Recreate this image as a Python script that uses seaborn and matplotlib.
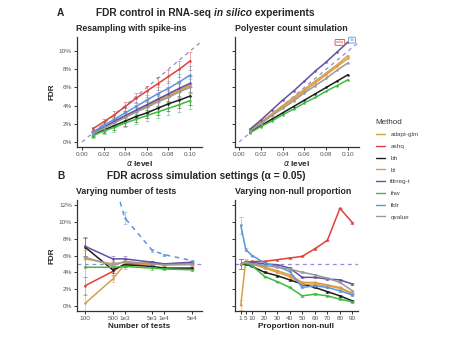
import numpy as np
import pandas as pd
import matplotlib
matplotlib.use("Agg")
import matplotlib.pyplot as plt
from matplotlib.lines import Line2D
import seaborn as sns

sns.set_theme(style="ticks")
plt.rcParams['font.family'] = ['Liberation Sans', 'DejaVu Sans']

W, H = 474, 341

methods = ["adapt-glm", "ashq", "bh", "bl", "fdrreg-t", "ihw", "lfdr", "qvalue"]
colors = ["#D2A24C", "#E0403A", "#1E1E1E", "#E39A45", "#634FA3", "#3DBB3D", "#5B95DA", "#9A9A9A"]
palette = dict(zip(methods, colors))

# ---------------- Panel A: resampling with spike-ins ----------------
alpha_levels = [0.01, 0.02, 0.03, 0.04, 0.05, 0.06, 0.07, 0.08, 0.09, 0.10]
rs_adapt = [0.95, 1.6, 2.2, 2.8, 3.4, 4.0, 4.6, 5.2, 5.7, 6.3]
rs_ashq = [1.45, 2.2, 3.0, 3.9, 4.8, 5.6, 6.4, 7.2, 8.0, 8.9]
rs_bh = [0.8, 1.3, 1.8, 2.3, 2.8, 3.2, 3.7, 4.2, 4.6, 5.05]
rs_bl = [0.95, 1.55, 2.15, 2.75, 3.35, 3.9, 4.5, 5.0, 5.6, 6.2]
rs_fdrreg = [1.0, 1.6, 2.3, 2.9, 3.5, 4.1, 4.7, 5.3, 5.9, 6.45]
rs_ihw = [0.7, 1.2, 1.6, 2.1, 2.5, 2.9, 3.3, 3.7, 4.1, 4.55]
rs_lfdr = [1.1, 1.8, 2.5, 3.2, 3.9, 4.6, 5.3, 5.9, 6.6, 7.35]
rs_qvalue = [0.9, 1.5, 2.1, 2.7, 3.3, 3.8, 4.4, 4.9, 5.5, 6.0]
rs_err = [0.25, 0.35, 0.45, 0.5, 0.55, 0.6, 0.7, 0.75, 0.85, 0.95]

# ---------------- Panel A: polyester ----------------
py_adapt = [1.3, 2.2, 3.1, 4.0, 4.9, 5.8, 6.7, 7.6, 8.5, 9.5]
py_bh = [1.1, 1.8, 2.5, 3.2, 3.9, 4.6, 5.3, 6.0, 6.7, 7.4]
py_bl = [1.25, 2.1, 3.0, 3.9, 4.7, 5.6, 6.5, 7.4, 8.3, 9.2]
py_fdrreg = [1.4, 2.4, 3.5, 4.6, 5.6, 6.7, 7.8, 8.8, 9.9, 11.0]
py_ihw = [1.0, 1.7, 2.3, 3.0, 3.6, 4.3, 4.9, 5.6, 6.2, 6.85]
py_qvalue = [1.2, 2.0, 2.9, 3.7, 4.5, 5.4, 6.2, 7.0, 7.9, 8.7]

# ---------------- Panel B: number of tests ----------------
n_tests = [100, 500, 1000, 5000, 10000, 50000]
n_tick_labels = ["100", "500", "1e3", "5e3", "1e4", "5e4"]
nt_adapt = [0.3, 3.2, 4.9, 5.0, 4.9, 4.9]
nt_ashq = [2.4, 4.1, 5.0, 5.1, 5.0, 5.1]
nt_bh = [7.0, 4.3, 4.9, 4.7, 4.5, 4.5]
nt_bl = [5.6, 5.0, 5.2, 5.0, 4.9, 5.0]
nt_fdrreg = [7.1, 5.6, 5.6, 5.2, 5.0, 5.2]
nt_ihw = [4.6, 4.6, 4.7, 4.5, 4.4, 4.3]
nt_lfdr = [np.nan, 15.5, 10.5, 6.6, 6.1, 5.4]
nt_qvalue = [5.8, 4.8, 5.3, 5.0, 4.9, 5.0]
nt_err = [1.1, 0.4, 0.3, 0.2, 0.1, 0.1]
nt_err_lfdr = [0.0, 0.0, 0.7, 0.15, 0.1, 0.1]

# ---------------- Panel B: non-null proportion ----------------
prop_nonnull = [1, 5, 10, 20, 30, 40, 50, 60, 70, 80, 90]
pn_adapt = [0.1, 5.4, 5.1, 4.6, 4.2, 3.7, 2.8, 2.8, 2.5, 2.2, 1.5]
pn_ashq = [5.0, 5.2, 5.3, 5.3, 5.5, 5.7, 5.9, 6.8, 7.8, 11.6, 9.9]
pn_bh = [5.0, 5.0, 4.7, 4.0, 3.6, 3.1, 2.6, 2.2, 1.7, 1.2, 0.6]
pn_bl = [5.0, 5.2, 5.0, 4.5, 4.0, 3.5, 2.6, 2.6, 2.4, 2.1, 1.4]
pn_fdrreg = [5.0, 5.2, 5.2, 5.0, 4.9, 4.5, 3.4, 3.4, 3.2, 3.1, 2.6]
pn_ihw = [5.0, 5.1, 4.8, 3.5, 2.9, 2.2, 1.2, 1.4, 1.2, 0.8, 0.5]
pn_lfdr = [9.6, 6.7, 6.0, 5.1, 4.7, 4.1, 2.2, 2.4, 2.2, 1.8, 1.3]
pn_qvalue = [5.0, 5.2, 5.0, 4.8, 4.6, 4.4, 4.0, 3.7, 3.3, 2.8, 1.8]
pn_err = [0.6, 0.15, 0.1, 0.1, 0.1, 0.1, 0.1, 0.1, 0.1, 0.1, 0.1]
pn_err_lfdr = [1.0, 0.15, 0.1, 0.1, 0.1, 0.1, 0.1, 0.1, 0.1, 0.1, 0.1]


def long_df(x, series):
    rows = []
    for m, vals in series.items():
        for xi, v in zip(x, vals):
            rows.append({"x": xi, "FDR": v, "Method": m})
    return pd.DataFrame(rows)


df_rs = long_df(alpha_levels, {"adapt-glm": rs_adapt, "ashq": rs_ashq, "bh": rs_bh, "bl": rs_bl,
                               "fdrreg-t": rs_fdrreg, "ihw": rs_ihw, "lfdr": rs_lfdr, "qvalue": rs_qvalue})
df_py = long_df(alpha_levels, {"adapt-glm": py_adapt, "bh": py_bh, "bl": py_bl,
                               "fdrreg-t": py_fdrreg, "ihw": py_ihw, "qvalue": py_qvalue})
df_nt = long_df(n_tests, {"adapt-glm": nt_adapt, "ashq": nt_ashq, "bh": nt_bh, "bl": nt_bl,
                          "fdrreg-t": nt_fdrreg, "ihw": nt_ihw, "qvalue": nt_qvalue})
df_nt_lfdr = long_df(n_tests, {"lfdr": nt_lfdr})
df_pn = long_df(prop_nonnull, {"adapt-glm": pn_adapt, "ashq": pn_ashq, "bh": pn_bh, "bl": pn_bl,
                               "fdrreg-t": pn_fdrreg, "ihw": pn_ihw, "lfdr": pn_lfdr, "qvalue": pn_qvalue})

fig = plt.figure(figsize=(W / 100, H / 100), dpi=100)
fig.patch.set_facecolor("white")


def px_axes(l, r, t, b):
    return fig.add_axes([l / W, 1 - b / H, (r - l) / W, (b - t) / H])


tick_fs = 4.6
lab_fs = 5.9
sub_fs = 6.3
spine_col = "#333333"
LW = 1.1


def style_ax(ax):
    sns.despine(ax=ax)
    for s in ["left", "bottom"]:
        ax.spines[s].set_color(spine_col)
        ax.spines[s].set_linewidth(0.9)
    ax.tick_params(axis="both", labelsize=tick_fs, labelcolor="#555555", color=spine_col,
                   length=2.2, width=0.7, pad=1.5)
    ax.set_facecolor("white")
    ax.grid(False)


def draw_err(ax, df, err, alpha=0.55):
    for m, g in df.groupby("Method"):
        e = np.asarray(err[m] if isinstance(err, dict) else err, dtype=float)[:len(g)]
        ax.errorbar(g["x"], g["FDR"], yerr=e, fmt="none", ecolor=palette[m], elinewidth=0.6,
                    capsize=1.3, capthick=0.6, alpha=alpha, zorder=1)


def pct_fmt(ax):
    ax.yaxis.set_major_formatter(matplotlib.ticker.FuncFormatter(lambda v, p: f"{v:.0f}%"))


# ---- top-left
ax1 = px_axes(77, 202, 37, 147)
style_ax(ax1)
ax1.plot([0, 0.112], [0, 11.2], color="#8C8CE0", lw=0.9, ls=(0, (3, 3)), zorder=0)
draw_err(ax1, df_rs, rs_err)
sns.lineplot(data=df_rs, x="x", y="FDR", hue="Method", palette=palette, marker="o", markersize=1.8,
             markeredgewidth=0, linewidth=LW, legend=False, ax=ax1, estimator=None, zorder=3)
ax1.set_xlim(-0.0046, 0.111)
ax1.set_ylim(-0.55, 11.54)
ax1.set_xticks([0, 0.02, 0.04, 0.06, 0.08, 0.10])
ax1.set_xticklabels(["0.00", "0.02", "0.04", "0.06", "0.08", "0.10"])
ax1.set_yticks([0, 2, 4, 6, 8, 10])
pct_fmt(ax1)
ax1.set_xlabel(r"$\alpha$ level", fontsize=lab_fs, fontweight="bold", labelpad=1.5)
ax1.set_ylabel("FDR", fontsize=lab_fs, fontweight="bold")
ax1.yaxis.set_label_coords(-0.176, 0.5)
ax1.set_title("Resampling with spike-ins", fontsize=sub_fs, fontweight="bold", pad=4.5, loc="left", x=-0.01)

# ---- top-right
ax2 = px_axes(235, 359, 37, 147)
style_ax(ax2)
ax2.plot([0, 0.112], [0, 11.2], color="#8C8CE0", lw=0.9, ls=(0, (3, 3)), zorder=0)
sns.lineplot(data=df_py, x="x", y="FDR", hue="Method", palette=palette, marker="o", markersize=1.8,
             markeredgewidth=0, linewidth=LW, legend=False, ax=ax2, estimator=None, zorder=3)
ax2.set_xlim(-0.0037, 0.110)
ax2.set_ylim(-0.55, 11.54)
ax2.set_xticks([0, 0.02, 0.04, 0.06, 0.08, 0.10])
ax2.set_xticklabels(["0.00", "0.02", "0.04", "0.06", "0.08", "0.10"])
ax2.set_yticks([0, 2, 4, 6, 8, 10])
ax2.set_yticklabels([])
ax2.set_xlabel(r"$\alpha$ level", fontsize=lab_fs, fontweight="bold", labelpad=1.5)
ax2.set_ylabel("")
ax2.set_title("Polyester count simulation", fontsize=sub_fs, fontweight="bold", pad=4.5, loc="left", x=0.0)
ax2.text(0.0925, 10.95, "ashq", fontsize=2.6, color=palette["ashq"], ha="center", va="center",
         bbox=dict(boxstyle="round,pad=0.25", fc="white", ec=palette["ashq"], lw=0.6), zorder=5)
ax2.text(0.1035, 11.2, "lfdr", fontsize=2.6, color=palette["lfdr"], ha="center", va="center",
         bbox=dict(boxstyle="round,pad=0.25", fc="white", ec=palette["lfdr"], lw=0.6), zorder=5)

# ---- bottom-left
ax3 = px_axes(77, 202, 200, 311)
style_ax(ax3)
ax3.axhline(5, color="#8C8CE0", lw=0.9, ls=(0, (3, 3)), zorder=0)
draw_err(ax3, df_nt, nt_err)
draw_err(ax3, df_nt_lfdr, nt_err_lfdr)
sns.lineplot(data=df_nt, x="x", y="FDR", hue="Method", palette=palette, marker="o", markersize=1.8,
             markeredgewidth=0, linewidth=LW, legend=False, ax=ax3, estimator=None, zorder=3)
sns.lineplot(data=df_nt_lfdr, x="x", y="FDR", color=palette["lfdr"], marker="o", markersize=1.8,
             markeredgewidth=0, linewidth=LW, ax=ax3, estimator=None, zorder=3, linestyle=(0, (3, 3)))
ax3.set_xscale("log")
ax3.set_xlim(62.8, 90100)
ax3.set_ylim(-0.6, 12.6)
ax3.set_xticks(n_tests)
ax3.set_xticklabels(n_tick_labels)
ax3.xaxis.set_minor_locator(matplotlib.ticker.NullLocator())
ax3.set_yticks([0, 2, 4, 6, 8, 10, 12])
pct_fmt(ax3)
ax3.set_xlabel("Number of tests", fontsize=lab_fs, fontweight="bold", labelpad=1.5)
ax3.set_ylabel("FDR", fontsize=lab_fs, fontweight="bold")
ax3.yaxis.set_label_coords(-0.176, 0.5)
ax3.set_title("Varying number of tests", fontsize=sub_fs, fontweight="bold", pad=4.5, loc="left", x=-0.01)

# ---- bottom-right
ax4 = px_axes(235, 358, 200, 311)
style_ax(ax4)
ax4.axhline(5, color="#8C8CE0", lw=0.9, ls=(0, (3, 3)), zorder=0)
draw_err(ax4, df_pn, {m: (pn_err if m != "lfdr" else pn_err_lfdr) for m in methods})
sns.lineplot(data=df_pn, x="x", y="FDR", hue="Method", palette=palette, marker="o", markersize=1.8,
             markeredgewidth=0, linewidth=LW, legend=False, ax=ax4, estimator=None, zorder=3)
ax4.set_xlim(-3.6, 94.4)
ax4.set_ylim(-0.6, 12.6)
ax4.set_xticks(prop_nonnull)
ax4.set_xticklabels([str(p) for p in prop_nonnull])
ax4.set_yticks([0, 2, 4, 6, 8, 10, 12])
ax4.set_yticklabels([])
ax4.set_xlabel("Proportion non-null", fontsize=lab_fs, fontweight="bold", labelpad=1.5)
ax4.set_ylabel("")
ax4.set_title("Varying non-null proportion", fontsize=sub_fs, fontweight="bold", pad=4.5, loc="left", x=0.0)

# ---- titles
title_fs = 7.3
fig.text(57 / W, 1 - 13 / H, "A", fontsize=title_fs, fontweight="bold", va="center", ha="left")
fig.text(57 / W, 1 - 176 / H, "B", fontsize=title_fs, fontweight="bold", va="center", ha="left")

fig.canvas.draw()
renderer = fig.canvas.get_renderer()


def seq_title(parts, cx, y):
    texts = []
    for s, style in parts:
        t = fig.text(0, 1 - y / H, s, fontsize=title_fs, fontweight="bold", fontstyle=style,
                     va="center", ha="left")
        texts.append(t)
    widths = [t.get_window_extent(renderer).width for t in texts]
    total = sum(widths)
    x0 = cx - total / 2
    for t, w in zip(texts, widths):
        t.set_x(x0 / W)
        x0 += w


seq_title([("FDR control in RNA-seq ", "normal"), ("in silico", "italic"), (" experiments", "normal")], 205.5, 13)
seq_title([("FDR across simulation settings (\u03b1 = 0.05)", "normal")], 206, 176)

# ---- legend
handles = [Line2D([0], [0], color=palette[m], lw=1.0) for m in methods]
leg = fig.legend(handles, methods, loc="upper left", bbox_to_anchor=(370 / W, 1 - 113 / H),
                 frameon=False, title="Method", fontsize=4.6, title_fontsize=5.8,
                 handlelength=1.5, handletextpad=0.8, labelspacing=0.98)
leg._legend_box.align = "left"
for t in leg.get_texts():
    t.set_color("#444444")
leg.get_title().set_color("#333333")

fig.savefig("out.png", dpi=100, facecolor="white")
